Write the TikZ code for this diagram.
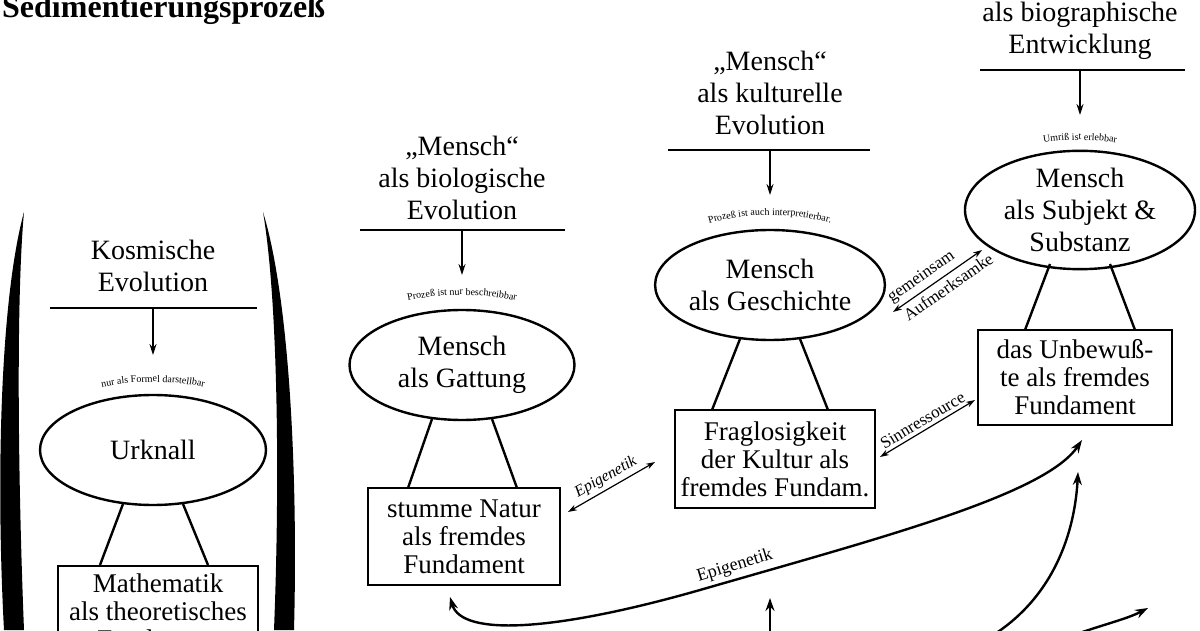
\documentclass[tikz,border=0pt]{standalone}
\usepackage{fontspec}
\setmainfont{Liberation Serif}
\usetikzlibrary{arrows.meta,decorations.text,shapes.geometric}
\begin{document}
\begin{tikzpicture}[x=1pt,y=1pt,
  big/.style={font=\fontsize{28}{32}\selectfont,align=center},
  ell/.style={draw,line width=2.4pt,ellipse,inner sep=0pt,font=\fontsize{28}{32}\selectfont,align=center},
  fbox/.style={draw,line width=2.4pt,rectangle,inner sep=0pt,font=\fontsize{27}{28}\selectfont,align=center},
  bar/.style={line width=2.6pt},
  leg/.style={line width=2.4pt},
  down/.style={-{Stealth[length=11pt,width=7pt]},line width=1.2pt},
  dbl/.style={{Stealth[length=9pt,width=6pt]}-{Stealth[length=9pt,width=6pt]},line width=1.2pt},
  curv/.style={line width=2.4pt},
  arc text/.style={font=\fontsize{25}{27}\selectfont\itshape},
  small/.style={font=\fontsize{17}{19}\selectfont}]
\useasboundingbox (0,0) rectangle (1200,630);
\clip (0,0) rectangle (1200,630);
% title
\node[anchor=base west,font=\fontsize{32}{34}\selectfont\bfseries,inner sep=0pt] (title) at (2,612) {Sedimentierungsprozeß};
% parentheses
\fill (24,418) .. controls (0,330) and (-4,150) .. (4,0) -- (24,0) .. controls (18,150) and (16,330) .. (24,418) -- cycle;
\fill (263,418) .. controls (290,330) and (298,150) .. (294,0) -- (274,0) .. controls (280,150) and (278,330) .. (263,418) -- cycle;
% column 1
\node[big] (t1) at (153,264) {}; 
\node[big] (t1b) at (153,364) {Kosmische\\Evolution};
\coordinate (b1l) at (50,322); \coordinate (b1r) at (257,322);
\draw[bar] (b1l) -- (b1r);
\coordinate (b1m) at (153,322); \coordinate (a1) at (153,275);
\draw[down] (b1m) -- (a1);
\node[ell,minimum width=226pt,minimum height=110pt] (e1) at (153,180) {Urknall};
\path[arc text,decorate,decoration={text along path,text align=center,text={nur als Formel darstellbar}}]
  (153,180) ++(170:132 and 68) arc[start angle=170,end angle=10,x radius=132,y radius=68];
\node[fbox,minimum width=200pt,minimum height=75pt,anchor=north] (f1) at (158,65) {};
\node[big,anchor=north,font=\fontsize{27}{28}\selectfont] (f1t) at (158,60) {Mathematik\\als theoretisches\\Fundament};
\draw[leg] (123,126) -- (100,65); \draw[leg] (183,126) -- (208,65);
% column 2
\node[big] (t2) at (462,452) {„Mensch“\\als biologische\\Evolution};
\coordinate (b2l) at (360,400); \coordinate (b2r) at (565,400);
\draw[bar] (b2l) -- (b2r);
\coordinate (b2m) at (462,400); \coordinate (a2) at (462,355);
\draw[down] (b2m) -- (a2);
\node[ell,minimum width=225pt,minimum height=110pt] (e2) at (462,265) {Mensch\\als Gattung};
\path[arc text,decorate,decoration={text along path,text align=center,text={Prozeß ist nur beschreibbar}}]
  (462,265) ++(170:138 and 70) arc[start angle=170,end angle=10,x radius=138,y radius=70];
\node[fbox,minimum width=192pt,minimum height=97pt] (f2) at (464,93.5) {stumme Natur\\als fremdes\\Fundament};
\draw[leg] (432,211) -- (408,142); \draw[leg] (492,211) -- (517,142);
% column 3
\node[big] (t3) at (770,537) {„Mensch“\\als kulturelle\\Evolution};
\coordinate (b3l) at (668,480); \coordinate (b3r) at (870,480);
\draw[bar] (b3l) -- (b3r);
\coordinate (b3m) at (770,480); \coordinate (a3) at (770,435);
\draw[down] (b3m) -- (a3);
\node[ell,minimum width=210pt,minimum height=110pt] (e3) at (770,345) {Mensch\\als Geschichte};
\path[arc text,font=\fontsize{23}{25}\selectfont\itshape,decorate,decoration={text along path,text align=center,text={Prozeß ist auch interpretierbar.}}]
  (770,345) ++(176:128 and 70) arc[start angle=176,end angle=4,x radius=128,y radius=70];
\node[fbox,minimum width=200pt,minimum height=98pt] (f3) at (775,171) {Fraglosigkeit\\der Kultur als\\fremdes Fundam.};
\draw[leg] (740,291) -- (712,220); \draw[leg] (800,291) -- (828,220);
% column 4
\node[big] (t4) at (1080,599) {als biographische\\Entwicklung};
\coordinate (b4l) at (980,560); \coordinate (b4r) at (1185,560);
\draw[bar] (b4l) -- (b4r);
\coordinate (b4m) at (1080,560); \coordinate (a4) at (1080,515);
\draw[down] (b4m) -- (a4);
\node[ell,minimum width=230pt,minimum height=110pt] (e4) at (1080,420) {Mensch\\als Subjekt \&\\Substanz};
\path[arc text,decorate,decoration={text along path,text align=center,text={Umriß ist erlebbar}}]
  (1080,420) ++(145:128 and 70) arc[start angle=145,end angle=35,x radius=128,y radius=70];
\node[fbox,minimum width=194pt,minimum height=95pt] (f4) at (1075,252.5) {das Unbewuß-\\te als fremdes\\Fundament};
\draw[leg] (1050,366) -- (1025,300); \draw[leg] (1110,366) -- (1135,300);
% connectors
\coordinate (p1) at (568,118); \coordinate (p2) at (655,168);
\draw[dbl] (p1) -- node[sloped,above,small,font=\fontsize{16}{18}\selectfont\itshape] {Epigenetik} (p2);
\coordinate (q1) at (880,173); \coordinate (q2) at (975,230);
\draw[dbl] (q1) -- node[sloped,above,small] {Sinnressource} (q2);
\coordinate (r1) at (893,318); \coordinate (r2) at (982,380);
\draw[dbl] (r1) -- node[sloped,above,small,pos=0.4,yshift=1pt] {gemeinsam} node[sloped,below,small,pos=0.55,yshift=-1pt] {Aufmerksamke} (r2);
\coordinate (s1) at (450,33); \coordinate (s2) at (1082,190);
\draw[curv,{Stealth[length=13pt,width=9pt]}-{Stealth[length=13pt,width=9pt]}] (s1) .. controls (462,-8) and (560,0) .. (700,40) .. controls (880,92) and (1045,135) .. (s2);
\node[small,font=\fontsize{18}{20}\selectfont,rotate=17] (epi2) at (735,64) {Epigenetik};
\coordinate (v1) at (770,-10); \coordinate (v2) at (770,32);
\draw[curv,-{Stealth[length=13pt,width=9pt]}] (v1) -- (v2);
\coordinate (w1) at (985,-10); \coordinate (w2) at (1078,158);
\draw[curv,-{Stealth[length=13pt,width=9pt]}] (w1) .. controls (1055,30) and (1075,100) .. (w2);
\coordinate (z1) at (1060,-10); \coordinate (z2) at (1148,22);
\draw[curv,-{Stealth[length=13pt,width=9pt]}] (z1) .. controls (1100,5) and (1125,10) .. (z2);
\end{tikzpicture}
\end{document}
